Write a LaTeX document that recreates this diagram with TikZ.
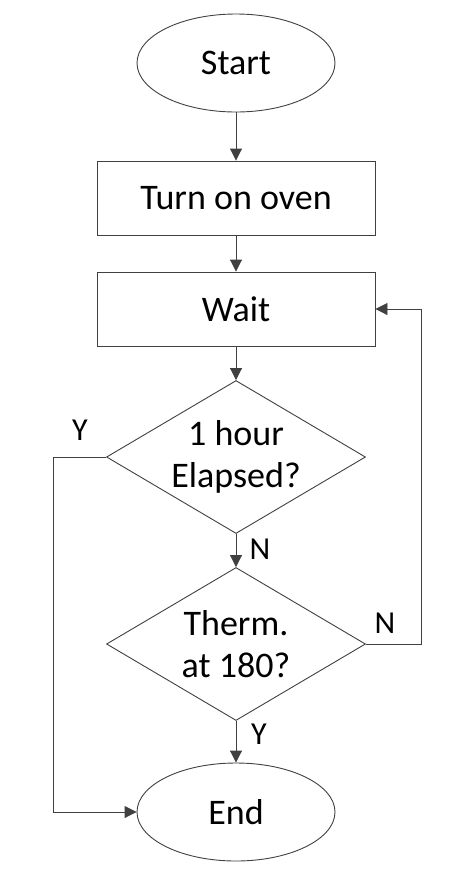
\documentclass[tikz,border=0pt]{standalone}
\usepackage{fontspec}
\setmainfont{Carlito}
\usetikzlibrary{shapes.geometric,arrows.meta}

\tikzset{
  line/.style={draw=black!75, line width=0.9pt},
  arr/.style={line, -{Triangle[length=12pt,width=12pt]}},
  terminal/.style={line, ellipse, minimum width=198pt, minimum height=98pt, inner sep=0pt,
    font=\fontsize{36}{42}\selectfont},
  process/.style={line, rectangle, minimum width=278pt, minimum height=74pt, inner sep=0pt,
    font=\fontsize{36}{42}\selectfont},
  decision/.style={line, diamond, aspect=1.69, minimum width=259pt, minimum height=153pt,
    inner sep=0pt, align=center, font=\fontsize{36}{42}\selectfont},
  lbl/.style={inner sep=0pt, font=\fontsize{32}{36}\selectfont}
}

\begin{document}
\begin{tikzpicture}[x=1pt, y=-1pt]
    \def\cx{236} % centre line of the chart

    \useasboundingbox (0,0) rectangle (476,879);

    % Draw the blocks
    \node[terminal] (start) at (\cx,63) {Start};
    \node[process]  (oven)  at (\cx,198) {Turn on oven};
    \node[process]  (wait)  at (\cx,309) {Wait};
    \node[decision] (hour)  at (\cx,457) {1 hour\\Elapsed?};
    \node[decision] (therm) at (\cx,644) {Therm.\\at 180?};
    \node[terminal] (stop)  at (\cx,812) {End};

    % Draw the straight connectors
    \draw[arr] (start) -- (oven);
    \draw[arr] (oven) -- (wait);
    \draw[arr] (wait) -- (hour);
    \draw[arr] (hour) -- (therm);
    \draw[arr] (therm) -- (stop);

    % Loop back to wait, and the way out to the end
    \draw[arr] (therm.east) -- ++(55,0) |- (wait.east);
    \draw[arr] (hour.west) -- ++(-53,0) |- (stop.west);

    % Branch labels
    \node[lbl] (hourY)  at (80,430) {Y};
    \node[lbl] (hourN)  at (260,549) {N};
    \node[lbl] (thermN) at (385,623) {N};
    \node[lbl] (thermY) at (259,734) {Y};
\end{tikzpicture}
\end{document}
